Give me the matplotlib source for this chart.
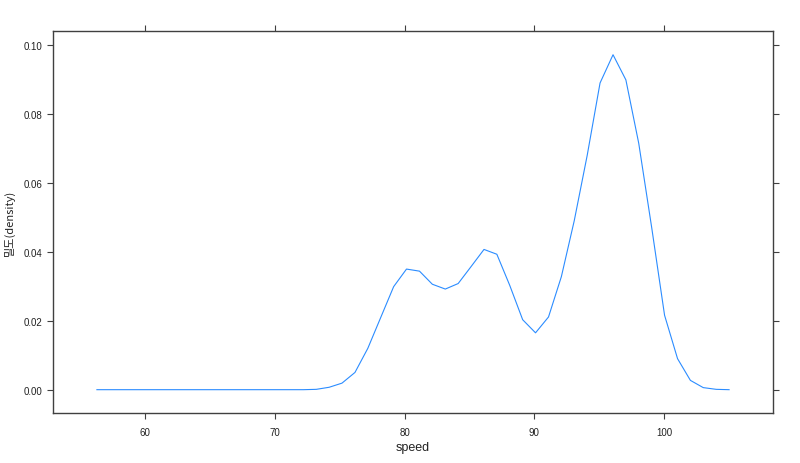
import matplotlib
matplotlib.use("Agg")
import matplotlib.pyplot as plt

# density estimate of speed (50 grid points)
speed = [56.3, 57.29, 58.29, 59.28, 60.28, 61.27, 62.26, 63.26, 64.25, 65.25,
         66.24, 67.23, 68.23, 69.22, 70.21, 71.21, 72.2, 73.2, 74.19, 75.18,
         76.18, 77.17, 78.17, 79.16, 80.15, 81.15, 82.14, 83.14, 84.13, 85.12,
         86.12, 87.11, 88.1, 89.1, 90.09, 91.09, 92.08, 93.07, 94.07, 95.06,
         96.06, 97.05, 98.04, 99.04, 100.03, 101.03, 102.02, 103.01, 104.01, 105.0]
density = [0.0, 0.0, 0.0, 0.0, 0.0, 0.0, 0.0, 0.0, 0.0, 0.0,
           0.0, 0.0, 0.0, 0.0, 0.0, 0.0, 0.0, 0.0001, 0.0007, 0.0019,
           0.0050, 0.0120, 0.0210, 0.0299, 0.0350, 0.0344, 0.0306, 0.0292, 0.0308, 0.0357,
           0.0407, 0.0393, 0.0303, 0.0203, 0.0165, 0.0211, 0.0328, 0.0490, 0.0680, 0.0890,
           0.0972, 0.0899, 0.0715, 0.0470, 0.0216, 0.0090, 0.0027, 0.0006, 0.0001, 0.0]

x_ticks = [60, 70, 80, 90, 100]
y_ticks = [0.00, 0.02, 0.04, 0.06, 0.08, 0.10]

plt.rcParams['font.family'] = ['Liberation Sans Narrow', 'Liberation Sans', 'DejaVu Sans']

fig = plt.figure(figsize=(8, 4.64), dpi=100)
ax = fig.add_axes([0.0666, 0.1078, 0.8996, 0.8226])

ax.plot(speed, density, color="#2b8cff", lw=0.8)

ax.set_xlim(52.94, 108.38)
ax.set_ylim(-0.00676, 0.1040)
ax.set_xticks(x_ticks)
ax.set_yticks(y_ticks)
ax.set_yticklabels([f"{v:.2f}" for v in y_ticks])

for s in ax.spines.values():
    s.set_color("#404040")
    s.set_linewidth(1.0)

ax.tick_params(axis="both", direction="out", length=4, width=0.8, color="#404040",
               labelsize=7, labelcolor="#222222",
               top=True, right=True, labeltop=False, labelright=False)
ax.tick_params(axis="x", pad=6)
ax.tick_params(axis="y", pad=4)

ax.set_xlabel("speed", fontsize=9, color="#222222", labelpad=3)
ax.set_ylabel("밀도(density)", fontsize=8, color="#222222", labelpad=6,
              family=['Noto Sans CJK KR', 'DejaVu Sans'])

fig.savefig("out.png", dpi=100)
